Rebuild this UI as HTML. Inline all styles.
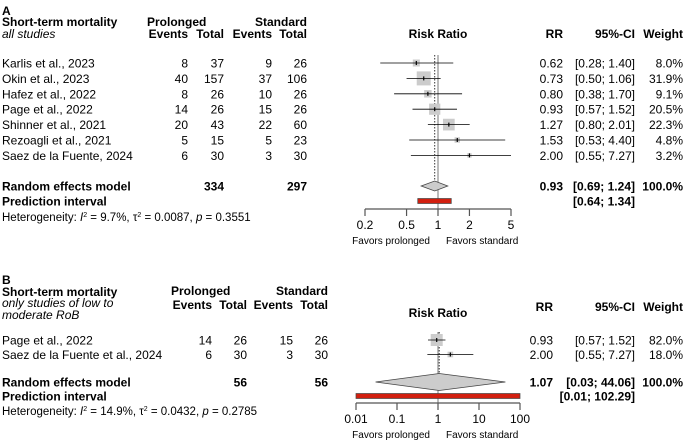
<!DOCTYPE html>
<html><head><meta charset="utf-8"><style>
body{margin:0;background:#fff}
svg{display:block;font-family:"Liberation Sans",Arial,sans-serif}
text{font-size:12px;fill:#000}
.b{font-weight:bold}.i{font-style:italic}.s{font-size:11.5px}
</style></head><body>
<svg id="c" width="685" height="446" viewBox="0 0 685 446">
<text x="2" y="15" class="b">A</text>
<text x="2" y="26" class="b">Short-term mortality</text>
<text x="2" y="38" class="i">all studies</text>
<text x="147" y="26" class="b">Prolonged</text>
<text x="307" y="26" class="b" text-anchor="end">Standard</text>
<text x="188" y="38" class="b" text-anchor="end">Events</text>
<text x="224" y="38" class="b" text-anchor="end">Total</text>
<text x="272" y="38" class="b" text-anchor="end">Events</text>
<text x="307" y="38" class="b" text-anchor="end">Total</text>
<text x="438" y="38" class="b" text-anchor="middle">Risk Ratio</text>
<text x="563" y="38" class="b" text-anchor="end">RR</text>
<text x="635" y="38" class="b" text-anchor="end">95%-CI</text>
<text x="683" y="38" class="b" text-anchor="end">Weight</text>

<text x="2" y="284" class="b">B</text>
<text x="2" y="296" class="b">Short-term mortality</text>
<text x="2" y="307" class="i">only studies of low to</text>
<text x="2" y="319" class="i">moderate RoB</text>
<text x="171" y="295" class="b">Prolonged</text>
<text x="328" y="295" class="b" text-anchor="end">Standard</text>
<text x="212" y="309" class="b" text-anchor="end">Events</text>
<text x="247" y="309" class="b" text-anchor="end">Total</text>
<text x="293" y="309" class="b" text-anchor="end">Events</text>
<text x="328" y="309" class="b" text-anchor="end">Total</text>
<text x="438" y="317" class="b" text-anchor="middle">Risk Ratio</text>
<text x="553" y="311" class="b" text-anchor="end">RR</text>
<text x="635" y="311" class="b" text-anchor="end">95%-CI</text>
<text x="683" y="311" class="b" text-anchor="end">Weight</text>
</svg>
<script>
const aStudies=["Karlis et al., 2023","Okin et al., 2023","Hafez et al., 2022","Page et al., 2022","Shinner et al., 2021","Rezoagli et al., 2021","Saez de la Fuente, 2024"];
const aEvP=[8,40,8,14,20,5,6];
const aTotP=[37,157,26,26,43,15,30];
const aEvS=[9,37,10,15,22,5,3];
const aTotS=[26,106,26,26,60,23,30];
const aRR=[0.62,0.73,0.80,0.93,1.27,1.53,2.00];
const aLo=[0.28,0.50,0.38,0.57,0.80,0.53,0.55];
const aHi=[1.40,1.06,1.70,1.52,2.01,4.40,7.27];
const aW=[8.0,31.9,9.1,20.5,22.3,4.8,3.2];
const aPooled=[0.93,0.69,1.24];
const aPred=[0.64,1.34];
const aTicks=[0.2,0.5,1,2,5];
const aTotals=[334,297];

const bStudies=["Page et al., 2022","Saez de la Fuente et al., 2024"];
const bEvP=[14,6];
const bTotP=[26,30];
const bEvS=[15,3];
const bTotS=[26,30];
const bRR=[0.93,2.00];
const bLo=[0.57,0.55];
const bHi=[1.52,7.27];
const bW=[82.0,18.0];
const bPooled=[1.07,0.03,44.06];
const bPred=[0.01,102.29];
const bTicks=[0.01,0.1,1,10,100];
const bTotals=[56,56];

const svg=document.getElementById('c');
const NS='http://www.w3.org/2000/svg';
function mk(tag,attrs,txt){const e=document.createElementNS(NS,tag);for(const k in attrs)e.setAttribute(k,attrs[k]);if(txt!==undefined)e.textContent=txt;svg.appendChild(e);return e;}
function f2(v){return v.toFixed(2);}

function panel(o){
  const x=v=>o.x0+(Math.log(v)-Math.log(o.tmin))/(Math.log(o.tmax)-Math.log(o.tmin))*(o.x1-o.x0);
  const xc=v=>Math.max(o.x0,Math.min(o.x1,x(v)));
  const rowY=i=>o.y0+i*o.dy;
  let e=mk('line',{x1:x(1),x2:x(1),y1:o.refTop,y2:o.axisY,stroke:'#777','stroke-width':1});
  
  
  e=mk('line',{x1:x(o.pooled[0]),x2:x(o.pooled[0]),y1:o.refTop,y2:o.diamY,stroke:'#333','stroke-width':1,'stroke-dasharray':'1.5,1.5'});
  
  
  o.studies.forEach((s,i)=>{
    const y=rowY(i);
    let t=mk('text',{x:2,y:y+4.5},s);
    
    
    [[o.evP,o.cols[0]],[o.totP,o.cols[1]],[o.evS,o.cols[2]],[o.totS,o.cols[3]]].forEach(([arr,cx])=>{
      t=mk('text',{x:cx,y:y+4.5,'text-anchor':'end'},arr[i]);
      
      
    });
    const sz=o.sq*Math.sqrt(o.w[i]/o.wmax);
    t=mk('rect',{x:x(o.rr[i])-sz/2,y:y-sz/2,width:sz,height:sz,fill:'#ccc'});
    
    
    t=mk('line',{x1:xc(o.lo[i]),x2:xc(o.hi[i]),y1:y,y2:y,stroke:'#000','stroke-width':0.8});
    
    
    t=mk('line',{x1:x(o.rr[i]),x2:x(o.rr[i]),y1:y-2,y2:y+2,stroke:'#000','stroke-width':1.2});
    
    
    t=mk('text',{x:o.rrX,y:y+4.5,'text-anchor':'end'},f2(o.rr[i]));
    
    
    t=mk('text',{x:635,y:y+4.5,'text-anchor':'end','xml:space':'preserve'},o.ciFmt(o.lo[i],o.hi[i]));
    
    
    t=mk('text',{x:683,y:y+4.5,'text-anchor':'end'},o.w[i].toFixed(1)+'%');
    
    
  });
  const dy=o.diamY;
  let t=mk('text',{x:2,y:dy+4.5,class:'b'},'Random effects model');
  
  
  t=mk('text',{x:o.cols[1],y:dy+4.5,class:'b','text-anchor':'end'},o.totals[0]);
  
  
  t=mk('text',{x:o.cols[3],y:dy+4.5,class:'b','text-anchor':'end'},o.totals[1]);
  
  
  t=mk('polygon',{points:`${xc(o.pooled[1])},${dy} ${x(o.pooled[0])},${dy-o.dh} ${xc(o.pooled[2])},${dy} ${x(o.pooled[0])},${dy+o.dh}`,fill:'#ccc',stroke:'#444','stroke-width':0.8});
  
  
  t=mk('text',{x:o.rrX,y:dy+4.5,class:'b','text-anchor':'end'},f2(o.pooled[0]));
  
  
  t=mk('text',{x:635,y:dy+4.5,class:'b','text-anchor':'end','xml:space':'preserve'},o.ciFmt(o.pooled[1],o.pooled[2]));
  
  
  t=mk('text',{x:683,y:dy+4.5,class:'b','text-anchor':'end'},'100.0%');
  
  
  const py=o.predY;
  t=mk('text',{x:2,y:py+4.5,class:'b'},'Prediction interval');
  
  
  t=mk('rect',{x:xc(o.pred[0]),y:py-2.5,width:xc(o.pred[1])-xc(o.pred[0]),height:5,fill:'#d21f0f',stroke:'#444','stroke-width':0.7});
  
  
  t=mk('text',{x:635,y:py+4.5,class:'b','text-anchor':'end'},'['+f2(o.pred[0])+'; '+f2(o.pred[1])+']');
  
  
  t=mk('text',{x:2,y:o.hetY,class:'s'});
  t.innerHTML=o.het;
  
  
  t=mk('line',{x1:x(o.tmin),x2:x(o.tmax),y1:o.axisY,y2:o.axisY,stroke:'#555','stroke-width':1.2});
  
  
  o.ticks.forEach(v=>{
    let k=mk('line',{x1:x(v),x2:x(v),y1:o.axisY,y2:o.axisY+7,stroke:'#555','stroke-width':1.2});
    
    
    k=mk('text',{x:x(v),y:o.axisY+20,'text-anchor':'middle'},String(v));
    
    
  });
  t=mk('text',{x:x(1)-8,y:o.axisY+35,'text-anchor':'end',style:'font-size:10px'},'Favors prolonged');
  
  
  t=mk('text',{x:x(1)+8,y:o.axisY+35,style:'font-size:10px'},'Favors standard');
  
  
}
const ciA=(l,h)=>'['+f2(l)+'; '+f2(h)+']';
const ciB=(l,h)=>{const a=f2(h);return '['+f2(l)+'; '+' '.repeat(Math.max(0,6-a.length)*2)+a+']';};
panel({p:'a',studies:aStudies,evP:aEvP,totP:aTotP,evS:aEvS,totS:aTotS,rr:aRR,lo:aLo,hi:aHi,w:aW,pooled:aPooled,pred:aPred,ticks:aTicks,totals:aTotals,
  x0:365,x1:511,tmin:0.2,tmax:5,y0:63,dy:15.4,diamY:186,predY:201,dh:5,axisY:209,refTop:55,hetY:221,
  cols:[188,224,272,307],rrX:563,sq:14,wmax:31.9,ciFmt:ciA,
  het:'Heterogeneity: <tspan font-style="italic">I</tspan><tspan dy="-4" font-size="7">2</tspan><tspan dy="4"> = 9.7%, τ</tspan><tspan dy="-4" font-size="7">2</tspan><tspan dy="4"> = 0.0087, </tspan><tspan font-style="italic">p</tspan> = 0.3551'});
panel({p:'b',studies:bStudies,evP:bEvP,totP:bTotP,evS:bEvS,totS:bTotS,rr:bRR,lo:bLo,hi:bHi,w:bW,pooled:bPooled,pred:bPred,ticks:bTicks,totals:bTotals,
  x0:356,x1:520,tmin:0.01,tmax:100,y0:340,dy:14.5,diamY:382,predY:396,dh:8.5,axisY:403,refTop:332,hetY:415,
  cols:[212,247,293,328],rrX:553,sq:12,wmax:82,ciFmt:ciB,
  het:'Heterogeneity: <tspan font-style="italic">I</tspan><tspan dy="-4" font-size="7">2</tspan><tspan dy="4"> = 14.9%, τ</tspan><tspan dy="-4" font-size="7">2</tspan><tspan dy="4"> = 0.0432, </tspan><tspan font-style="italic">p</tspan> = 0.2785'});
</script>
</body></html>
